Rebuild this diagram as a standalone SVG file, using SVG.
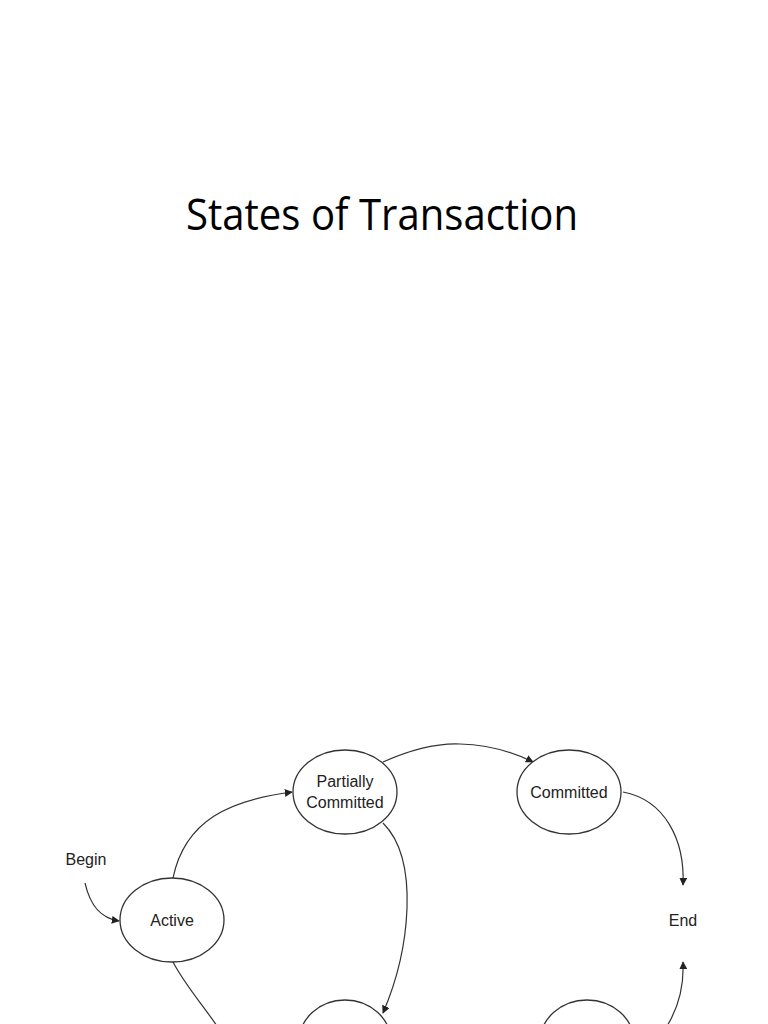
<svg xmlns="http://www.w3.org/2000/svg" width="768" height="1024" viewBox="0 0 768 1024">
<style>
.st{fill:#fff;stroke:#333;stroke-width:1.3}
.lb{font-family:"Liberation Sans",Arial,sans-serif;font-size:16px;fill:#222;text-anchor:middle}
.cn{fill:none;stroke:#333;stroke-width:1.2}
</style>
<defs>
<marker id="ah" viewBox="0 0 10 10" refX="9" refY="5" markerWidth="8" markerHeight="8" markerUnits="userSpaceOnUse" orient="auto">
<path d="M0,0 L10,5 L0,10 z" fill="#222"/>
</marker>
</defs>
<rect width="768" height="1024" fill="#fff"/>
<text x="382" y="230" font-family="'Open Sans',Calibri,sans-serif" font-size="44" fill="#000" text-anchor="middle" textLength="392" lengthAdjust="spacingAndGlyphs">States of Transaction</text>
<g id="connectors">
<path class="cn" d="M85,883 C90,905 100,918 119,921" marker-end="url(#ah)"/>
<path class="cn" d="M173,878 C185,820 230,800 292,792" marker-end="url(#ah)"/>
<path class="cn" d="M383,762 C410,750 435,743 460,744 C490,745 515,753 533,762" marker-end="url(#ah)"/>
<path class="cn" d="M383,823 C420,860 410,950 383,1013" marker-end="url(#ah)"/>
<path class="cn" d="M173,962 C185,985 205,1008 217,1026"/>
<path class="cn" d="M623,792 C665,800 685,840 683,885" marker-end="url(#ah)"/>
<path class="cn" d="M667,1026 C680,1005 684,985 683,962" marker-end="url(#ah)"/>
</g>
<g id="begin"><text class="lb" x="86" y="865">Begin</text></g>
<g id="active"><ellipse class="st" cx="172" cy="920" rx="52" ry="42"/><text class="lb" x="172" y="926">Active</text></g>
<g id="partially-committed"><ellipse class="st" cx="345" cy="792" rx="52" ry="42"/><text class="lb" x="345" y="787">Partially</text><text class="lb" x="345" y="808">Committed</text></g>
<g id="committed"><ellipse class="st" cx="569" cy="792" rx="52" ry="42"/><text class="lb" x="569" y="798">Committed</text></g>
<g id="end"><text class="lb" x="683" y="926">End</text></g>
<g id="failed"><ellipse class="st" cx="345" cy="1042" rx="46" ry="42"/></g>
<g id="aborted"><ellipse class="st" cx="587" cy="1042" rx="47" ry="42"/></g>
</svg>
